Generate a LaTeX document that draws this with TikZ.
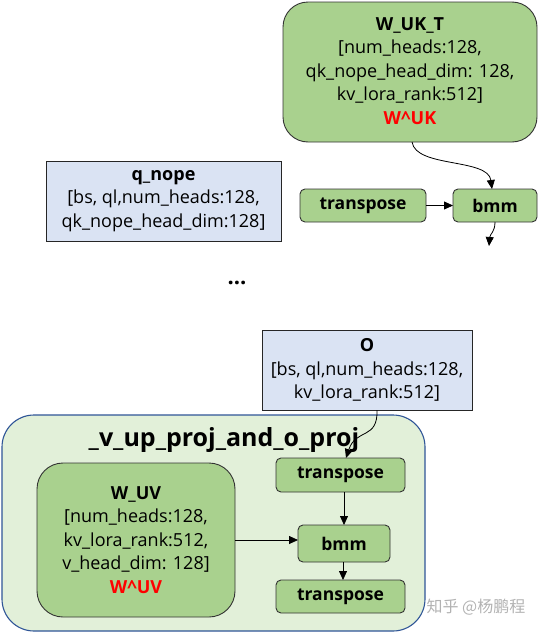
\documentclass[tikz,border=0pt]{standalone}
\usepackage{fontspec}
\setmainfont{Open Sans}
\newfontfamily\cjk{Noto Sans CJK SC}
\usetikzlibrary{arrows.meta}
\definecolor{gfill}{HTML}{A9D18E}
\definecolor{bfill}{HTML}{DAE3F3}
\definecolor{cfill}{HTML}{E2F0D9}
\definecolor{cborder}{HTML}{2F5597}
\definecolor{wred}{HTML}{FF0000}
\tikzset{
  txt/.style={font=\fontsize{18}{23.5}\selectfont, align=center, inner sep=0pt},
  lbl/.style={font=\fontsize{17.5}{24}\selectfont\bfseries, inner sep=0pt},
  gbox/.style={draw=black!80, fill=gfill, line width=0.9pt, rounded corners=#1},
  bbox/.style={draw=black!85, fill=bfill, line width=0.9pt},
  conn/.style={-{Triangle[length=9pt,width=8pt]}, line width=0.8pt},
}
\begin{document}
\begin{tikzpicture}[x=1pt,y=-1pt]
\useasboundingbox (0,0) rectangle (540,632);
% W_UK_T
\draw[gbox=25] (283,2) rectangle (537,142);
\node[txt] (wuk) at (410,71) {\textbf{W\_UK\_T}\\{[}num\_heads:128,\\qk\_nope\_head\_dim: 128,\\kv\_lora\_rank:512{]}\\\textcolor{wred}{\textbf{W\^{}UK}}};
\coordinate (wukb) at (412,142);
% q_nope
\draw[bbox] (46,161) rectangle (281,241);
\node[txt] (qn) at (163.5,201) {\textbf{q\_nope}\\{[}bs, ql,num\_heads:128,\\qk\_nope\_head\_dim:128{]}};
% transpose, bmm top
\draw[gbox=5] (300,189) rectangle (426,222);
\node[lbl] (t0) at (363,205.5) {transpose};
\draw[gbox=5] (453,189) rectangle (537,222);
\node[lbl] (b0) at (495,205.5) {bmm};
\coordinate (t0e) at (426,205.5);
\coordinate (b0w) at (453,205.5);
\coordinate (b0n) at (492,189);
\coordinate (b0s) at (495,222);
\coordinate (b0out) at (489,246);
\draw[conn] (t0e) -- (b0w);
\draw[conn] (wukb) .. controls (416,168) and (488,158) .. (b0n);
\draw[conn] (b0s) .. controls (495,232) and (490,234) .. (b0out);
% dots
\node[font=\fontsize{22}{22}\selectfont\bfseries] (dots) at (237,283) {...};
% O
\draw[bbox] (262,330) rectangle (472,410);
\node[txt] (o) at (367,370) {\textbf{O}\\{[}bs, ql,num\_heads:128,\\kv\_lora\_rank:512{]}};
\coordinate (ob) at (377,410);
% container
\draw[draw=cborder, fill=cfill, line width=1.1pt, rounded corners=32] (2,415) rectangle (425,631);
\node[font=\fontsize{25}{28}\selectfont\bfseries, inner sep=0pt] (title) at (224,440) {\_v\_up\_proj\_and\_o\_proj};
% W_UV
\draw[gbox=26] (37,463) rectangle (235,617);
\node[txt] (wuv) at (136,540) {\textbf{W\_UV}\\{[}num\_heads:128,\\kv\_lora\_rank:512,\\v\_head\_dim: 128{]}\\\textcolor{wred}{\textbf{W\^{}UV}}};
\coordinate (wuve) at (235,540);
% inner boxes
\draw[gbox=5] (276,458) rectangle (405,492);
\node[lbl] (t1) at (340.5,475) {transpose};
\draw[gbox=5] (298,525) rectangle (390,562);
\node[lbl] (b1) at (344,543.5) {bmm};
\draw[gbox=5] (276,580) rectangle (405,613);
\node[lbl] (t2) at (340.5,596.5) {transpose};
\coordinate (t1n) at (346,458);
\coordinate (t1s) at (344,492);
\coordinate (b1n) at (344,525);
\coordinate (b1w) at (298,540);
\coordinate (b1s) at (343,562);
\coordinate (t2n) at (343,580);
\draw[conn] (ob) .. controls (378,440) and (356,428) .. (t1n);
\draw[conn] (wuve) -- (b1w);
\draw[conn] (t1s) -- (b1n);
\draw[conn] (b1s) -- (t2n);
% watermark
\node[font=\cjk\fontsize{16}{18}\selectfont, text=black!30] (wm) at (476,607) {知乎 @杨鹏程};
\end{tikzpicture}
\end{document}
